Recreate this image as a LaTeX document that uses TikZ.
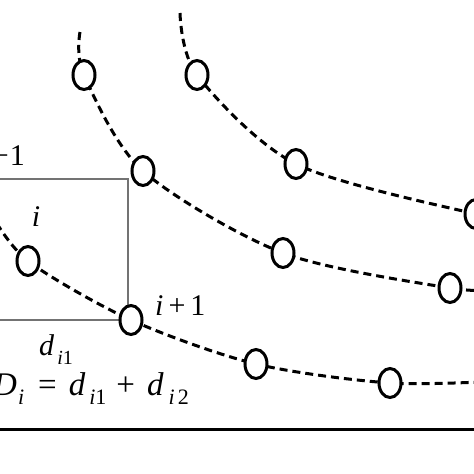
\documentclass[tikz,border=0pt]{standalone}
\usepackage{fontspec}
\setmainfont{Liberation Serif}
\usetikzlibrary{shapes.geometric}
\pgfdeclarelayer{bg}
\pgfsetlayers{bg,main}
\newcommand\lsub[1]{\raisebox{-0.3em}{\fontsize{20}{20}\selectfont #1}}
\newcommand\bsub[1]{\raisebox{-0.3em}{\fontsize{22}{22}\selectfont #1}}
\tikzset{
  ring/.style={ellipse, draw=black, fill=white, line width=3pt, inner sep=0pt,
               minimum width=22pt, minimum height=29pt},
  track/.style={draw=black, line width=3pt, dash pattern=on 8pt off 5pt},
  lbl/.style={font=\fontsize{30}{34}\selectfont, inner sep=0pt},
  big/.style={font=\fontsize{33}{37}\selectfont, inner sep=0pt},
  box/.style={draw=black!55, line width=1.3pt}
}
\begin{document}
\begin{tikzpicture}[x=1pt,y=-1pt]
\useasboundingbox (0,0) rectangle (474,474);
\clip (0,0) rectangle (474,474);
% rectangle
\draw[box] (-10,179) -- (128,179) -- (128,320) -- (-10,320);
% rings
\node[ring] (a1) at (28,261) {};
\node[ring] (a2) at (131,320) {};
\node[ring] (a3) at (256,364) {};
\node[ring] (a4) at (390,383) {};
\node[ring] (b1) at (84,75) {};
\node[ring] (b2) at (143,171) {};
\node[ring] (b3) at (283,253) {};
\node[ring] (b4) at (450,288) {};
\node[ring] (c1) at (197,75) {};
\node[ring] (c2) at (296,164) {};
\node[ring] (c3) at (476,214) {};
\coordinate (a0) at (-10,212);
\coordinate (a5) at (500,381);
\coordinate (b0) at (80,32);
\coordinate (b5) at (500,289);
\coordinate (c0) at (180,13);
\coordinate (c4) at (530,219);
\begin{pgfonlayer}{bg}
\draw[track] plot[smooth] coordinates {(a0) (a1) (a2) (a3) (a4) (a5)};
\draw[track] plot[smooth] coordinates {(b0) (b1) (b2) (b3) (b4) (b5)};
\draw[track] plot[smooth] coordinates {(c0) (c1) (c2) (c3) (c4)};
\end{pgfonlayer}
% labels
\node[lbl, anchor=base east] (lm) at (25,165) {\textit{i}\,−\kern1pt1};
\node[lbl] (li) at (36,217) {\textit{i}};
\node[lbl, anchor=base west] (lp) at (155,315) {\textit{i}\,+\,1};
\node[lbl, anchor=base west] (ld) at (39,355) {\textit{d}\kern3pt\lsub{\textit{i}1}};
\node[big, anchor=base east] (lD) at (189,395) {\textit{D}\kern1pt\bsub{\textit{i}}\hspace{14pt}=\hspace{12pt}\textit{d}\kern4pt\bsub{\textit{i}1}\hspace{10pt}+\hspace{12pt}\textit{d}\kern5pt\bsub{\textit{i}\kern3pt 2}};
% base line
\coordinate (g0) at (0,429);
\coordinate (g1) at (474,429);
\draw[line width=3pt] (g0) -- (g1);
\end{tikzpicture}
\end{document}
